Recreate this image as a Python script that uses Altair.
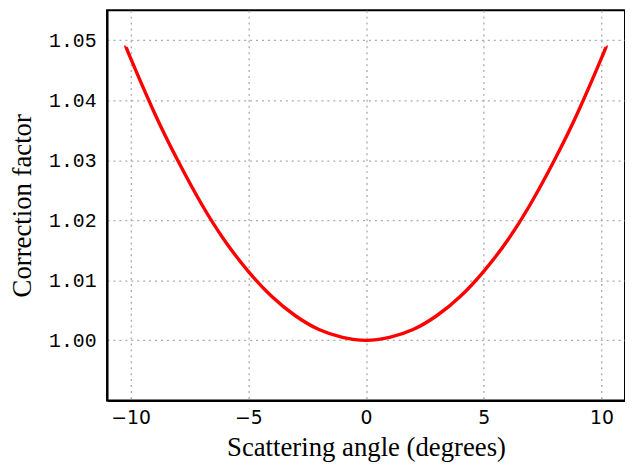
import altair as alt
import pandas as pd

# Values
angles = [-10.2, -10, -9, -8, -7, -6, -5, -4, -3, -2, -1, 0,
          1, 2, 3, 4, 5, 6, 7, 8, 9, 10, 10.2]
factors = [1.0490, 1.0470, 1.0380, 1.0300, 1.0228, 1.0166, 1.0115, 1.0073, 1.0041, 1.0018, 1.0005, 1.0000,
           1.0005, 1.0018, 1.0041, 1.0073, 1.0115, 1.0166, 1.0228, 1.0300, 1.0380, 1.0470, 1.0490]
x_ticks = [-10, -5, 0, 5, 10]
y_ticks = [1.00, 1.01, 1.02, 1.03, 1.04, 1.05]

df = pd.DataFrame({"angle": angles, "factor": factors})

chart = alt.Chart(df).mark_line(
    color="#ff0000", strokeWidth=3.4, interpolate="natural", clip=True
).encode(
    x=alt.X("angle:Q", scale=alt.Scale(domain=[-11, 11], nice=False, zero=False),
            axis=alt.Axis(values=x_ticks, title="Scattering angle (degrees)", format="d",
                          labelFont="DejaVu Sans", labelFontSize=19, labelPadding=8,
                          titlePadding=8)),
    y=alt.Y("factor:Q", scale=alt.Scale(domain=[0.99, 1.055], nice=False, zero=False),
            axis=alt.Axis(values=y_ticks, title="Correction factor", format=".2f",
                          labelFont="Liberation Mono", labelFontSize=20, labelPadding=11,
                          titlePadding=12)),
).properties(
    width=523, height=394, padding=0
).configure_axis(
    grid=True, gridColor="#aaaaaa", gridDash=[2, 4], gridWidth=1.3,
    domainColor="black", domainWidth=2, ticks=False,
    labelColor="black", titleColor="black",
    titleFont="Liberation Serif", titleFontSize=27, titleFontWeight="normal",
).configure_view(
    stroke="black", strokeWidth=2
)

chart.save("out.html", embed_options={"renderer": "svg", "actions": False})
